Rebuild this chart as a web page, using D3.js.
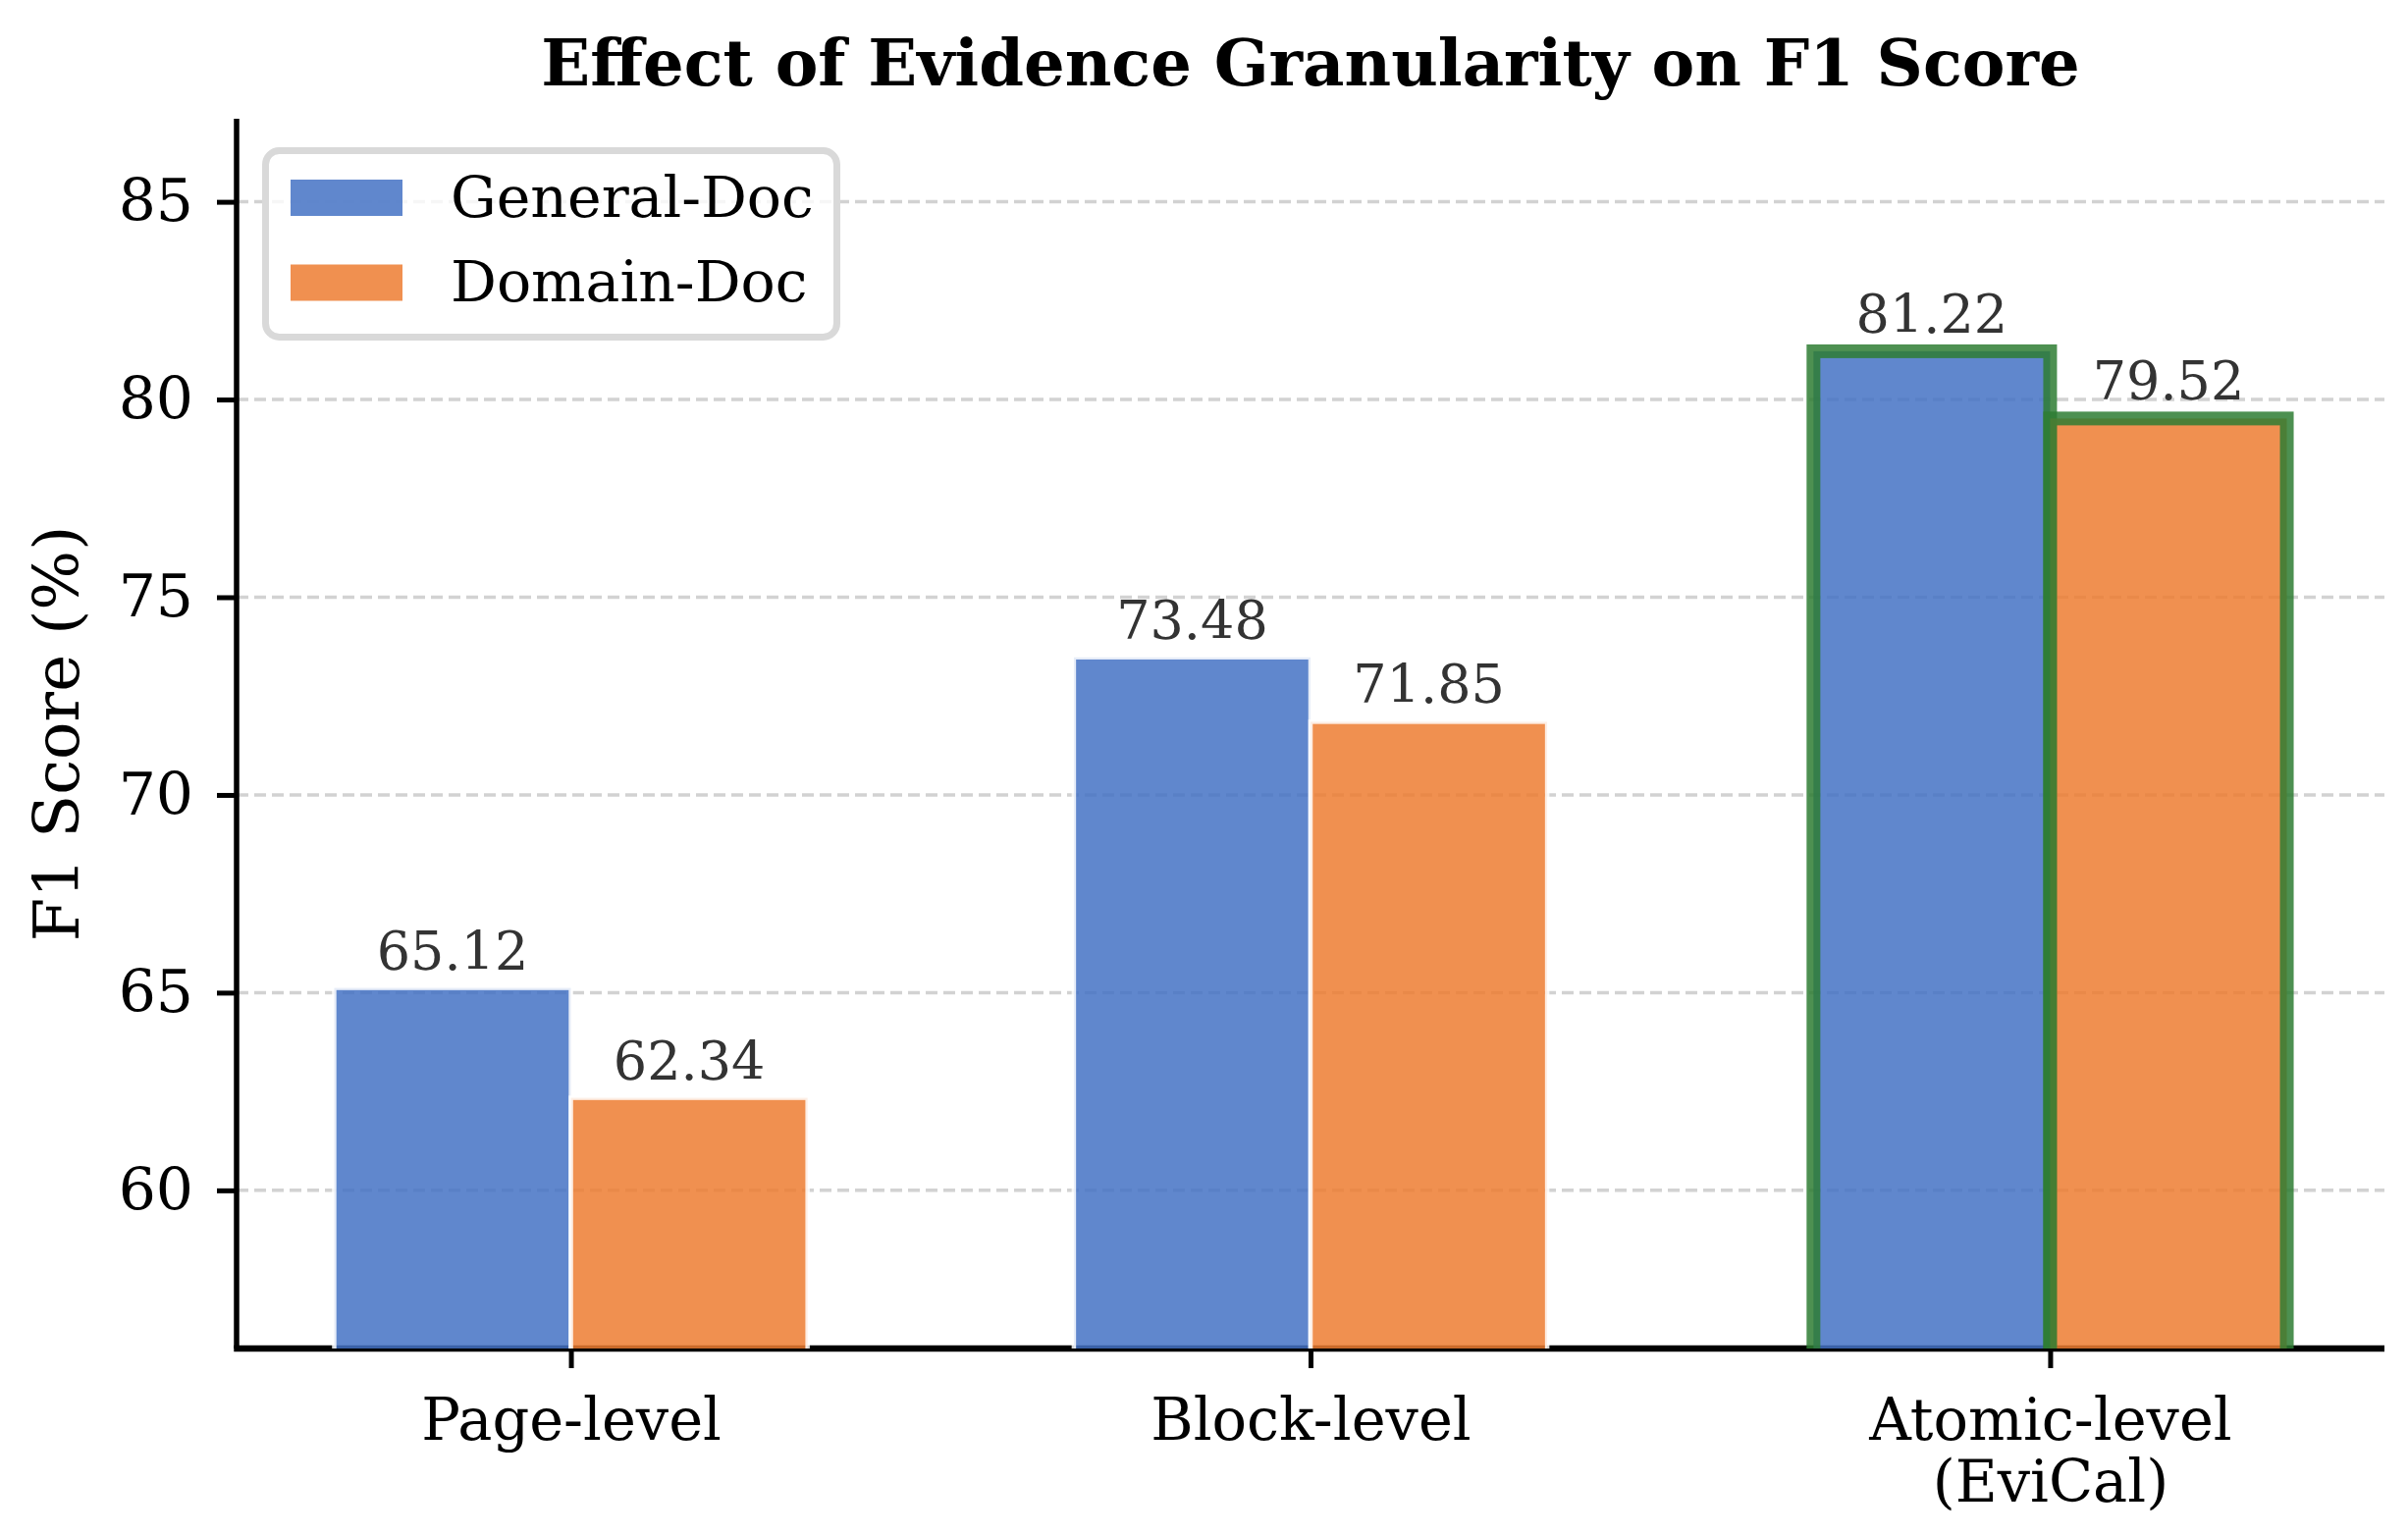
<!DOCTYPE html>
<html>
<head>
<meta charset="utf-8">
<script src="https://cdn.jsdelivr.net/npm/d3@7"></script>
<style>
  body { margin: 0; background: #fff; }
  svg { display: block; font-family: "DejaVu Serif", serif; }
</style>
</head>
<body>
<svg id="chart" width="2453" height="1563"></svg>
<script>
// chart data
const categories = ["Page-level", "Block-level", "Atomic-level\n(EviCal)"];
const seriesNames = ["General-Doc", "Domain-Doc"];
const generalDoc = [65.12, 73.48, 81.22];
const domainDoc = [62.34, 71.85, 79.52];
const highlighted = [false, false, true];
const yTicks = [60, 65, 70, 75, 80, 85];

const colors = ["#4472C4", "#ED7D31"];
const highlightColor = "#2E7D32";

const width = 2453, height = 1563;
const margin = { top: 121, right: 24, bottom: 189, left: 241 };
const plotW = width - margin.left - margin.right;
const plotH = height - margin.top - margin.bottom;
const barW = 0.32;

const svg = d3.select("#chart");
const g = svg.append("g").attr("transform", `translate(${margin.left},${margin.top})`);

svg.append("defs").append("clipPath").attr("id", "plotClip")
  .append("rect").attr("x", 0).attr("y", -50).attr("width", plotW).attr("height", plotH + 50);

const x = d3.scaleLinear()
  .domain([-barW - 0.132, categories.length - 1 + barW + 0.132])
  .range([0, plotW]);
const y = d3.scaleLinear().domain([56, 87.1]).range([plotH, 0]);

// grid
g.append("g").selectAll("line")
  .data(yTicks)
  .join("line")
    .attr("x1", 0).attr("x2", plotW)
    .attr("y1", d => y(d)).attr("y2", d => y(d))
    .attr("stroke", "#d2d2d2")
    .attr("stroke-width", 3.5)
    .attr("stroke-dasharray", "12,6");

// x axis (spine under the bars, like the original)
const xAxis = g.append("g")
  .attr("transform", `translate(0,${plotH})`)
  .call(d3.axisBottom(x).tickValues(d3.range(categories.length)).tickSize(20).tickFormat(() => ""));
xAxis.attr("font-family", null);
xAxis.select(".domain").attr("stroke-width", 6.5).attr("d", `M-2.75,0H${plotW}`);
xAxis.selectAll(".tick line").attr("stroke-width", 5);
xAxis.selectAll(".tick").each(function(d, i) {
  const t = d3.select(this).append("text")
    .attr("fill", "#000")
    .attr("text-anchor", "middle")
    .style("font-size", "59px");
  categories[i].split("\n").forEach((line, k) => {
    t.append("tspan").attr("x", 0).attr("y", 93 + k * 63).text(line);
  });
});

// bars
const series = [generalDoc, domainDoc];
const bw = x(barW) - x(0);
series.forEach((vals, s) => {
  const off = s === 0 ? -barW / 2 : barW / 2;
  g.append("g").attr("clip-path", "url(#plotClip)")
    .selectAll("rect")
    .data(vals)
    .join("rect")
      .attr("x", (d, i) => x(i + off) - bw / 2)
      .attr("y", d => y(d))
      .attr("width", bw)
      .attr("height", d => y(0) - y(d))
      .attr("fill", colors[s])
      .attr("fill-opacity", 0.85)
      .attr("stroke", (d, i) => highlighted[i] ? highlightColor : "#fff")
      .attr("stroke-opacity", 0.85)
      .attr("stroke-width", (d, i) => highlighted[i] ? 14 : 4.5);
});

// value labels
series.forEach((vals, s) => {
  const off = s === 0 ? -barW / 2 : barW / 2;
  g.append("g").selectAll("text")
    .data(vals)
    .join("text")
      .attr("x", (d, i) => x(i + off))
      .attr("y", d => y(d) - 19)
      .attr("text-anchor", "middle")
      .attr("fill", "#333")
      .style("font-size", "54px")
      .text(d => d.toFixed(2));
});

// y axis
const yAxis = g.append("g")
  .call(d3.axisLeft(y).tickValues(yTicks).tickSize(20).tickPadding(24).tickFormat(d3.format("d")));
yAxis.attr("font-family", null);
yAxis.select(".domain").attr("stroke-width", 5.5).attr("d", `M0,${plotH}V0`);
yAxis.selectAll(".tick line").attr("stroke-width", 5);
yAxis.selectAll(".tick text").style("font-size", "60px").attr("fill", "#000");

// y label
svg.append("text")
  .attr("transform", `translate(80,${margin.top + plotH / 2}) rotate(-90)`)
  .attr("text-anchor", "middle")
  .style("font-size", "64px")
  .text("F1 Score (%)");

// title
svg.append("text")
  .attr("x", margin.left + plotW / 2)
  .attr("y", 87)
  .attr("text-anchor", "middle")
  .style("font-size", "65.5px")
  .style("font-weight", "bold")
  .text("Effect of Evidence Granularity on F1 Score");

// legend
const legend = svg.append("g");
legend.append("rect")
  .attr("x", 270.5).attr("y", 153.5)
  .attr("width", 582).attr("height", 190)
  .attr("rx", 14)
  .attr("fill", "#fff").attr("fill-opacity", 0.8)
  .attr("stroke", "#d9d9d9").attr("stroke-width", 7);
seriesNames.forEach((name, s) => {
  legend.append("rect")
    .attr("x", 296).attr("y", 183 + s * 86.5)
    .attr("width", 114).attr("height", 37)
    .attr("fill", colors[s]).attr("fill-opacity", 0.85);
  legend.append("text")
    .attr("x", 459).attr("y", 221 + s * 86)
    .style("font-size", "58.5px")
    .text(name);
});
</script>
</body>
</html>
